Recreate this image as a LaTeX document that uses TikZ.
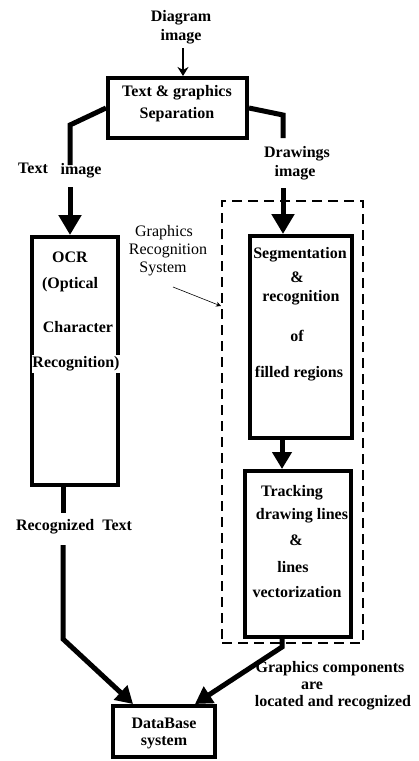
\documentclass[tikz,border=0pt]{standalone}
\usepackage{fontspec}
\setmainfont{Liberation Serif}
\usetikzlibrary{arrows.meta}
\begin{document}
\begin{tikzpicture}[x=1pt,y=-1pt,
  every node/.style={font=\fontsize{16}{19}\selectfont\bfseries, inner sep=0pt},
  plain/.style={font=\fontsize{16}{19}\selectfont},
  box/.style={draw, line width=4pt},
  grsbox/.style={draw, line width=2pt, dash pattern=on 10pt off 6pt},
  flow/.style={line width=5pt},
  bigarrow/.style={line width=5pt, -{Triangle[width=22pt,length=20pt]}},
  midarrow/.style={line width=5pt, -{Triangle[width=19pt,length=17pt]}},
  thinarrow/.style={line width=2pt, -{Stealth[width=11pt,length=9pt]}},
  pointer/.style={line width=0.6pt, -{Stealth[width=5pt,length=5pt]}}
]
\useasboundingbox (0,0) rectangle (419,761);
\fill[white] (0,0) rectangle (419,761);

% dashed group
\node[grsbox, minimum width=141pt, minimum height=442pt] (grs) at (292.5,422) {};

% boxes
\node[box, minimum width=139pt, minimum height=60pt] (sep) at (177.5,108) {};
\node[box, minimum width=86pt, minimum height=248pt] (ocr) at (75,361) {};
\node[box, minimum width=102pt, minimum height=202pt] (seg) at (301,337) {};
\node[box, minimum width=106pt, minimum height=166pt] (track) at (298,554) {};
\node[box, minimum width=102pt, minimum height=51pt] (db) at (164,731.5) {};

% texts
\node (dg1) at (181,18) {Diagram};
\node (dg2) at (181,37) {image};
\node (sp1) at (177,93) {Text \& graphics};
\node (sp2) at (177,115) {Separation};
\node (ti1) at (33,168) {Text};
\node (ti2) at (81,171) {image};
\node (di1) at (297,154) {Drawings};
\node (di2) at (295,173) {image};
\node[plain] (gr1) at (164,233) {Graphics};
\node[plain] (gr2) at (168,251) {Recognition};
\node[plain] (gr3) at (163,269) {System};
\node (oc1) at (70,257) {OCR};
\node (oc2) at (70,285) {(Optical};
\node (oc3) at (78,327) {Character};
\node[fill=white, inner ysep=2pt] (oc4) at (76,364) {Recognition)};
\node (sg1) at (300,255) {Segmentation};
\node (sg2) at (297,277) {\&};
\node (sg3) at (301,298) {recognition};
\node (sg4) at (297,336) {of};
\node (sg5) at (299,374) {filled regions};
\node (tr1) at (292,493) {Tracking};
\node (tr2) at (302,516) {drawing lines};
\node (tr3) at (296,540) {\&};
\node (tr4) at (293,567) {lines};
\node (tr5) at (297,592) {vectorization};
\node (rt) at (74,527) {Recognized\ \ Text};
\node (gc1) at (330,669) {Graphics components};
\node (gc2) at (312,686) {are};
\node (gc3) at (333,703) {located and recognized};
\node (db1) at (164,723) {DataBase};
\node (db2) at (164,743) {system};

% connectors
\coordinate (inTop) at (183,48);
\draw[thinarrow] (inTop) -- (inTop |- sep.north);

\coordinate (lA) at (70,125);
\coordinate (lB) at (70,165);
\coordinate (lC) at (70,187);
\draw[flow] (sep.west) -- (lA) -- (lB);
\draw[bigarrow] (lC) -- (lC |- ocr.north);

\coordinate (rA) at (283,115);
\coordinate (rB) at (283,138);
\coordinate (rC) at (283,188);
\draw[flow] (sep.east) -- (rA) -- (rB);
\draw[bigarrow] (rC) -- (rC |- seg.north);

\coordinate (mx) at (282,0);
\draw[midarrow] (seg.south -| mx) -- (track.north -| mx);

\coordinate (tB) at (282,647);
\coordinate (dbR) at (195,0);
\draw[midarrow] (track.south -| tB) -- (tB) -- (db.north -| dbR);

\coordinate (oA) at (63,513);
\coordinate (oB) at (63,545);
\coordinate (oC) at (63,639);
\coordinate (dbL) at (133,0);
\draw[flow] (ocr.south -| oA) -- (oA);
\draw[midarrow] (oB) -- (oC) -- (db.north -| dbL);

\coordinate (pS) at (173,287);
\draw[pointer] (pS) -- (grs.west |- 0,306);
\end{tikzpicture}
\end{document}
